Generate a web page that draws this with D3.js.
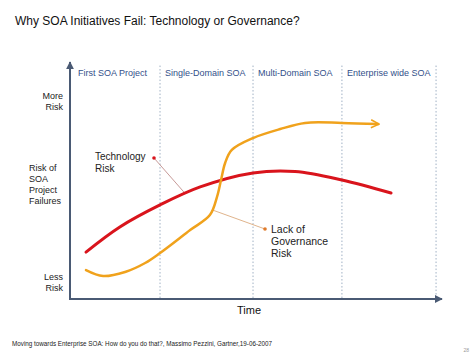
<!DOCTYPE html>
<html><head><meta charset="utf-8">
<script src="https://cdn.jsdelivr.net/npm/d3@7"></script>
<style>
html,body{margin:0;padding:0;background:#fff;}
svg{display:block;font-family:"Liberation Sans",Arial,sans-serif;}
</style></head>
<body><svg id="c" width="474" height="355"></svg>
<script>
// ---- data ----
const phases = ["First SOA Project","Single-Domain SOA","Multi-Domain SOA","Enterprise wide SOA"];
const phaseEnds = [24.2, 49.2, 73.1, 98.4];
const techTime = [4.3, 13.4, 24.2, 35.0, 49.2, 60.5, 73.1, 86.3];
const techRisk = [19.8, 30.4, 39.7, 47.3, 53.2, 53.8, 50.2, 44.7];
const govTime = [4.3, 8.9, 14.8, 20.2, 24.2, 32.3, 37.6, 39.5, 40.6, 41.7, 43.5, 49.2, 56.5, 63.2, 73.1, 82.8];
const govRisk = [12.2, 9.7, 11.4, 15.2, 19.4, 29.1, 35.4, 43.0, 50.2, 57.4, 62.9, 67.9, 71.7, 74.3, 74.3, 73.8];
const yLabelsTop = ["More","Risk"];
const yLabelsMid = ["Risk of","SOA","Project","Failures"];
const yLabelsBot = ["Less","Risk"];
const techLabel = ["Technology","Risk"];
const govLabel = ["Lack of","Governance","Risk"];

const svg = d3.select("#c");
const x = d3.scaleLinear().domain([0,100]).range([70,442]);
const y = d3.scaleLinear().domain([0,100]).range([299,62]);

const axisCol = "#4a5a74";
const red = "#d9141c", orange = "#f0a21c";

// title
svg.append("text").attr("x",15).attr("y",25).attr("font-size",12).attr("fill","#111")
  .text("Why SOA Initiatives Fail: Technology or Governance?");

// defs
const defs = svg.append("defs");
defs.append("marker").attr("id","ax").attr("viewBox","0 0 10 10").attr("refX",9).attr("refY",5)
  .attr("markerWidth",4).attr("markerHeight",4).attr("orient","auto")
  .append("path").attr("d","M0,0L10,5L0,10z").attr("fill",axisCol);
defs.append("marker").attr("id","ar").attr("viewBox","0 0 10 10").attr("refX",8).attr("refY",5)
  .attr("markerWidth",4).attr("markerHeight",4).attr("orient","auto").attr("markerUnits","strokeWidth")
  .append("path").attr("d","M1,1L9,5L1,9").attr("fill","none").attr("stroke",orange).attr("stroke-width",1.6);

// phase dividers
svg.selectAll("line.ph").data(phaseEnds).join("line").attr("class","ph")
  .attr("x1",d=>x(d)).attr("x2",d=>x(d)).attr("y1",y(98.5)).attr("y2",y(0))
  .attr("stroke","#9fb0c4").attr("stroke-width",1).attr("stroke-dasharray","1.5,2");

// phase labels
const phaseStarts = [0].concat(phaseEnds.slice(0,3));
svg.selectAll("text.ph").data(phases).join("text").attr("class","ph")
  .attr("x",(d,i)=>x(phaseStarts[i]) + (i===0?8:5)).attr("y",76)
  .attr("font-size",9).attr("fill","#33508a").text(d=>d);

// axes
svg.append("line").attr("x1",x(0)).attr("x2",x(100)).attr("y1",y(0)).attr("y2",y(0))
  .attr("stroke",axisCol).attr("stroke-width",2).attr("marker-end","url(#ax)");
svg.append("line").attr("x1",x(0)).attr("x2",x(0)).attr("y1",y(0)+1).attr("y2",y(100))
  .attr("stroke",axisCol).attr("stroke-width",2).attr("marker-end","url(#ax)");

// y labels
function lines(arr, xx, y0, dy, anchor, size){
  svg.append("g").selectAll("text").data(arr).join("text")
    .attr("x",xx).attr("y",(d,i)=>y0+i*dy).attr("text-anchor",anchor)
    .attr("font-size",size).attr("fill","#222").text(d=>d);
}
lines(yLabelsTop, 63, 99, 11, "end", 9);
lines(yLabelsMid, 29, 171, 11, "start", 9);
lines(yLabelsBot, 63, 280, 11, "end", 9);

// Time label
svg.append("text").attr("x",249).attr("y",314).attr("text-anchor","middle")
  .attr("font-size",11).attr("fill","#111").text("Time");

// curves
const line = d3.line().x(d=>x(d[0])).y(d=>y(d[1])).curve(d3.curveCatmullRom.alpha(0.5));
const techData = techTime.map((t,i)=>[t,techRisk[i]]);
const govData = govTime.map((t,i)=>[t,govRisk[i]]);

// leader lines
svg.append("line").attr("x1",154).attr("y1",158).attr("x2",x(30.8)).attr("y2",y(44.8))
  .attr("stroke","#c79a98").attr("stroke-width",1);
svg.append("circle").attr("cx",154).attr("cy",158).attr("r",1.8).attr("fill",red);
svg.append("line").attr("x1",x(38.4)).attr("y1",y(37.5)).attr("x2",265).attr("y2",229)
  .attr("stroke","#e0b48c").attr("stroke-width",1);
svg.append("circle").attr("cx",265).attr("cy",229).attr("r",1.8).attr("fill","#e07a2a");

svg.append("path").datum(techData).attr("d",line).attr("fill","none")
  .attr("stroke",red).attr("stroke-width",3).attr("stroke-linecap","round");
svg.append("path").datum(govData).attr("d",line).attr("fill","none")
  .attr("stroke",orange).attr("stroke-width",2.5).attr("stroke-linecap","round")
  .attr("marker-end","url(#ar)");

lines(techLabel, 95, 160, 12, "start", 10);
lines(govLabel, 271, 233, 12, "start", 10.5);

// footnote
svg.append("text").attr("x",12).attr("y",346).attr("font-size",6.3).attr("fill","#222")
  .text("Moving towards Enterprise SOA: How do you do that?, Massimo Pezzini, Gartner,19-06-2007");
svg.append("text").attr("x",469).attr("y",352).attr("text-anchor","end").attr("font-size",5)
  .attr("fill","#999").text("28");
</script></body></html>
